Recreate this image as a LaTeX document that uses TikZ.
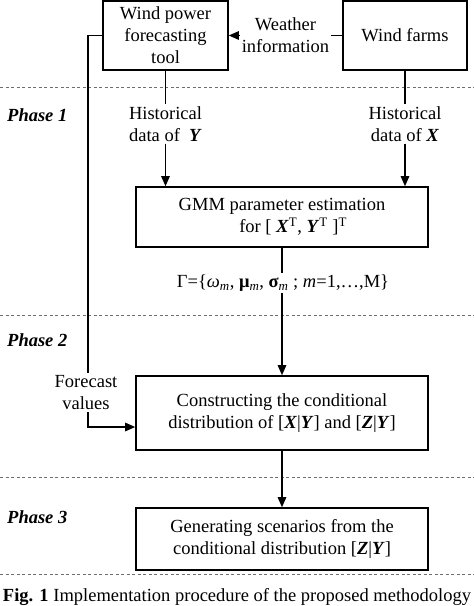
\documentclass[tikz,border=0pt]{standalone}
\usepackage{fontspec}
\setmainfont{Liberation Serif}
\usepackage{tikz}
\usetikzlibrary{arrows.meta,calc,positioning}
\definecolor{sepgray}{RGB}{110,110,110}

\begin{document}
\begin{tikzpicture}[
      x=1pt, y=-1pt,
      font=\fontsize{18.5}{22}\selectfont,
      box/.style={draw, line width=1.6pt, align=center, inner sep=2pt},
      lbl/.style={fill=white, align=center, inner sep=2pt},
      phase/.style={anchor=west, inner sep=0pt, font=\fontsize{18.5}{22}\selectfont\bfseries\itshape},
      arr/.style={-{Triangle[length=10pt,width=8.5pt]}, line width=1.3pt},
      sep/.style={sepgray, dashed, dash pattern=on 3pt off 2.5pt, line width=1pt}
    ]
    \useasboundingbox (0,0) rectangle (474,606);

    % phase separators
    \foreach \y in {87,315,477,574}
      \draw[sep] (0,\y) -- (474,\y);
    \foreach \y/\n in {115/1,340/2,517/3}
      \node[phase] (ph\n) at (7,\y) {Phase \n};

    \node[box, minimum width=125, minimum height=69] (tool) at (165.5,35.5) {Wind power\\forecasting\\tool};
    \node[box, minimum width=124, minimum height=69] (farms) at (405,35.5) {Wind farms};

    \node[box, minimum width=292, minimum height=60] (gmm) at (282,217)
      {GMM parameter estimation\\
       \hspace*{1.2em}for [ \textbf{\textit{X}}\textsuperscript{T}, \textbf{\textit{Y}}\textsuperscript{T} ]\textsuperscript{T}};
    \node[box, minimum width=292, minimum height=74] (cond) at (282,413)
      {Constructing the conditional\\
       distribution of [\textbf{\textit{X}}|\textbf{\textit{Y}}] and [\textbf{\textit{Z}}|\textbf{\textit{Y}}]};
    \node[box, minimum width=292, minimum height=62] (gen) at (282,539)
      {Generating scenarios from the\\
       conditional distribution [\textbf{\textit{Z}}|\textbf{\textit{Y}}]};

    \node[lbl] (histy) at (165.5,124) {Historical\\data of \ \textbf{\textit{Y}}};
    \node[lbl] (histx) at (405,124) {Historical\\data of \textbf{\textit{X}}};

    \draw[arr] (farms) -- node[lbl] (weather) {Weather\\information} (tool);
    \draw[line width=1.3pt] (tool) -- (histy);
    \draw[arr] (histy) -- (histy |- gmm.north);
    \draw[line width=1.3pt] (farms) -- (histx);
    \draw[arr] (histx) -- (histx |- gmm.north);

    \draw[arr] (gmm) -- (cond);
    \node[lbl] (gamma) at (283,283)
      {Γ=\{\textit{ω}\textsubscript{\textit{m}}, \textbf{μ}\textsubscript{\textit{m}}, \textbf{σ}\textsubscript{\textit{m}} ; \textit{m}=1,\dots,M\}};
    \draw[arr] (cond) -- (gen);

    \coordinate (bend) at (88,427);
    \draw[arr] (tool.west) -| (bend) -- (bend -| cond.west);
    \node[lbl] (fcst) at (86,392.5) {Forecast\\values};

    \node (cap) at (237,597) {\textbf{Fig. 1} Implementation procedure of the proposed methodology};
  \end{tikzpicture}
\end{document}
